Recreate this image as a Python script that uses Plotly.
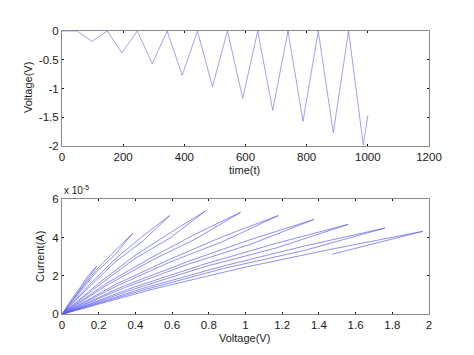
import plotly.graph_objects as go

# ---- Top panel: voltage vs time ----
time_t = [0, 50, 98, 148, 196, 246, 295, 344, 393, 443, 492, 541, 591, 640, 689, 739, 788, 838, 887, 937, 985, 1000]
voltage_t = [0, 0, -0.18, 0, -0.38, 0, -0.57, 0, -0.77, 0, -0.97, 0, -1.17, 0, -1.38, 0, -1.57, 0, -1.77, 0, -1.98, -1.47]

# ---- Bottom panel: I-V loops (current in units of 1e-5 A) ----
loop_v = [
    [0, 0.05, 0.10, 0.14, 0.19, 0.14, 0.10, 0.05, 0],
    [0, 0.10, 0.19, 0.29, 0.385, 0.29, 0.19, 0.10, 0],
    [0, 0.15, 0.29, 0.44, 0.588, 0.44, 0.29, 0.15, 0],
    [0, 0.20, 0.39, 0.59, 0.782, 0.59, 0.39, 0.20, 0],
    [0, 0.24, 0.49, 0.73, 0.973, 0.73, 0.49, 0.24, 0],
    [0, 0.29, 0.59, 0.88, 1.178, 0.88, 0.59, 0.29, 0],
    [0, 0.34, 0.69, 1.03, 1.373, 1.03, 0.69, 0.34, 0],
    [0, 0.39, 0.78, 1.17, 1.559, 1.17, 0.78, 0.39, 0],
    [0, 0.44, 0.88, 1.32, 1.76, 1.32, 0.88, 0.44, 0],
    [0, 0.49, 0.98, 1.48, 1.967, 1.47],
]
loop_i = [
    [0, 0.76, 1.41, 1.99, 2.52, 1.86, 1.34, 0.71, 0],
    [0, 1.27, 2.36, 3.33, 4.22, 3.12, 2.24, 1.18, 0],
    [0, 1.55, 2.89, 4.08, 5.16, 3.82, 2.73, 1.44, 0],
    [0, 1.62, 3.02, 4.26, 5.39, 3.99, 2.86, 1.51, 0],
    [0, 1.60, 2.98, 4.20, 5.32, 3.94, 2.82, 1.49, 0],
    [0, 1.55, 2.88, 4.07, 5.15, 3.81, 2.73, 1.44, 0],
    [0, 1.49, 2.77, 3.91, 4.95, 3.66, 2.62, 1.39, 0],
    [0, 1.41, 2.63, 3.71, 4.69, 3.47, 2.49, 1.31, 0],
    [0, 1.35, 2.52, 3.56, 4.50, 3.33, 2.39, 1.26, 0],
    [0, 1.30, 2.42, 3.42, 4.33, 3.13],
]

top_xticks = [0, 200, 400, 600, 800, 1000, 1200]
top_yticks = [-2, -1.5, -1, -0.5, 0]
top_yticktext = ["-2", "-1.5", "-1", "-0.5", "0"]
bot_xticks = [0, 0.2, 0.4, 0.6, 0.8, 1, 1.2, 1.4, 1.6, 1.8, 2]
bot_xticktext = ["0", "0.2", "0.4", "0.6", "0.8", "1", "1.2", "1.4", "1.6", "1.8", "2"]
bot_yticks = [0, 2, 4, 6]

iv_v = [v for lv in loop_v for v in lv]
iv_i = [c for li in loop_i for c in li]

TOP_LINE = dict(color="rgb(120,120,245)", width=0.7)
BOT_LINE = dict(color="rgb(95,95,245)", width=0.7)
FAM = "Liberation Sans, Arial, sans-serif"
FONT = dict(family=FAM, size=11.5, color="#1a1a1a")

fig = go.Figure()
fig.add_trace(go.Scatter(x=time_t, y=voltage_t, mode="lines", line=TOP_LINE, xaxis="x", yaxis="y", showlegend=False))
fig.add_trace(go.Scatter(x=iv_v, y=iv_i, mode="lines", line=BOT_LINE, xaxis="x2", yaxis="y2", showlegend=False))

axis_common = dict(showline=True, linecolor="#8a8a8a", linewidth=1, mirror="allticks",
                   ticks="inside", ticklen=2, tickcolor="#111", showgrid=False, zeroline=False,
                   tickfont=FONT, automargin=False)

def label(text, x, y, angle=0, size=11, xanchor="center", yanchor="middle"):
    return dict(text=text, xref="paper", yref="paper", x=x, y=y, textangle=angle,
                xanchor=xanchor, yanchor=yanchor, showarrow=False,
                font=dict(family=FAM, size=size, color="#1a1a1a"))

fig.update_layout(
    width=474, height=355,
    margin=dict(l=54, r=53, t=0, b=0),
    paper_bgcolor="white", plot_bgcolor="white",
    font=FONT,
    xaxis=dict(domain=[0, 1], range=[0, 1200], tickvals=top_xticks, anchor="y", **axis_common),
    yaxis=dict(domain=[0.6113, 0.9352], range=[-2, 0], tickvals=top_yticks, ticktext=top_yticktext,
               anchor="x", **axis_common),
    xaxis2=dict(domain=[0, 1], range=[0, 2], tickvals=bot_xticks, ticktext=bot_xticktext, anchor="y2",
                **axis_common),
    yaxis2=dict(domain=[0.1372, 0.4611], range=[0, 6], tickvals=bot_yticks, anchor="x2", **axis_common),
    annotations=[
        label("Voltage(V)", -0.0926, 0.7746, angle=-90),
        label("time(t)", 0.4986, 0.5437),
        label("Current(A)", -0.0599, 0.2986, angle=-90),
        label("Voltage(V)", 0.496, 0.0704),
        label("x 10<sup>-5</sup>", 0.0, 0.4873, size=10, xanchor="left"),
    ],
)

fig.write_html("out.html")
